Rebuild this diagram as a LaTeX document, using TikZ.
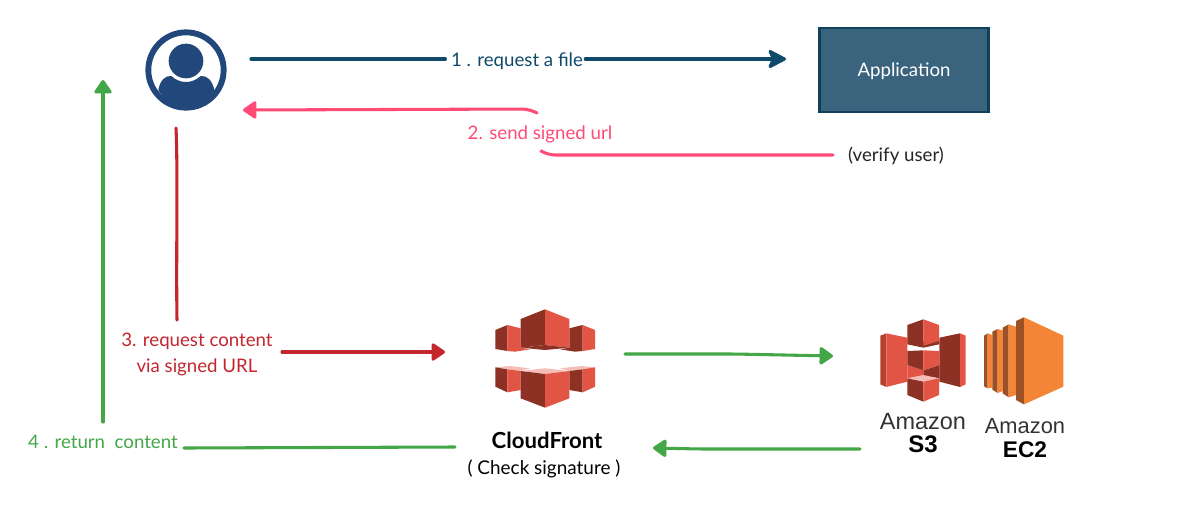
\documentclass[tikz,border=0pt]{standalone}
\usepackage{fontspec}
\setmainfont{Lato}
\newfontfamily\arialish{Liberation Sans}
\usetikzlibrary{arrows.meta}
\definecolor{navy}{HTML}{0F4A6B}
\definecolor{appfill}{HTML}{3A637D}
\definecolor{appedge}{HTML}{123F5C}
\definecolor{pinkc}{HTML}{FF4B75}
\definecolor{redc}{HTML}{C4262E}
\definecolor{greenc}{HTML}{43A748}
\definecolor{personc}{HTML}{22477A}
\definecolor{awslight}{HTML}{E25444}
\definecolor{awsdark}{HTML}{8C3123}
\definecolor{awsmid}{HTML}{B8402F}
\definecolor{awspale}{HTML}{F5BDB6}
\definecolor{ecl}{HTML}{F58536}
\definecolor{ecd}{HTML}{9D5025}
\tikzset{
  x=0.75pt,y=-0.75pt,
  conn/.style={line width=2.3pt,line cap=round,rounded corners=6pt},
  tri/.style={-{Triangle[length=11pt,width=14.5pt,round]}},
  lbl/.style={inner sep=0pt,font=\fontsize{14pt}{19.5pt}\selectfont,align=center},
  zoomed/.style={shift={#1},x=0.25pt,y=-0.25pt},
  lt/.style={fill=awslight},
  dk/.style={fill=awsdark},
  pl/.style={fill=awspale},
}
\begin{document}
\begin{tikzpicture}
\useasboundingbox (0,0) rectangle (1200,522);
\fill[white] (0,0) rectangle (1200,522);
% person
\begin{scope}[zoomed={(100,10)}]
  \draw[personc,line width=4.4pt] (258,180) circle (113);
  \fill[personc] (258,153) circle (52);
  \fill[personc] (175,240) .. controls (180,212) and (195,196) .. (214,198)
     .. controls (240,222) and (276,222) .. (302,198)
     .. controls (322,196) and (337,212) .. (343,240)
     .. controls (322,274) and (290,293) .. (258,293)
     .. controls (226,293) and (194,274) .. (175,240) -- cycle;
\end{scope}
\coordinate (person1) at (251,59);
\coordinate (person2) at (243,110);
\coordinate (person3) at (176,128);
% application
\node[draw=appedge,fill=appfill,line width=1.8pt,minimum width=126.5pt,minimum height=63pt,inner sep=0pt] (app) at (904,70) {};
\node[inner sep=0pt,text=white,font=\fontsize{14pt}{17pt}\selectfont] (applbl) at (904,71.5) {Application};
\coordinate (appin) at (786,59);
% labels
\node[lbl,text=navy] (l1) at (517,61) {1 . request a file};
\node[lbl,text=pinkc] (l2) at (540,134) {2. send signed url};
\node[lbl,text=black!85] (verify) at (896,156) {(verify user)};
\node[lbl,text=redc] (l3) at (197,354) {3. request content\\via signed URL};
\node[lbl,text=greenc] (l4) at (103,442) {4 . return~~content};
\node[lbl,font=\fontsize{16.6pt}{18pt}\bfseries\selectfont] (cf) at (547,440) {CloudFront};
\node[lbl,font=\fontsize{14.2pt}{16pt}\selectfont] (chk) at (544,469) {( Check signature )};
\node[inner sep=0pt,text=black!80,font=\arialish\fontsize{17.6pt}{20pt}\selectfont] (s3a) at (923,422) {Amazon};
\node[inner sep=0pt,font=\arialish\fontsize{18pt}{20pt}\bfseries\selectfont] (s3b) at (923,444) {S3};
\node[inner sep=0pt,text=black!80,font=\arialish\fontsize{16.4pt}{20pt}\selectfont] (eca) at (1025,426) {Amazon};
\node[inner sep=0pt,font=\arialish\fontsize{17pt}{20pt}\bfseries\selectfont] (ecb) at (1025,450) {EC2};
% connectors
\draw[conn,navy,shorten >=4pt] (person1) -- (l1.west |- person1);
\draw[conn,navy,shorten <=1.5pt,-{Stealth[length=15.5pt,width=16pt,inset=3.5pt,round]}] (l1.east |- appin) -- (appin);
\draw[conn,pinkc,tri] (537,113) -- (530,109) -- (person2);
\coordinate (pinkstart) at (541,151);
\draw[conn,pinkc] (pinkstart) -- (547,155) -- (833,155);
\draw[conn,redc] (person3) .. controls (178,170) and (176,260) .. (177,320);
\coordinate (r1) at (282,352);
\coordinate (cfin) at (445,352);
\draw[conn,redc,tri] (r1) -- (cfin);
\coordinate (g1) at (625,354);
\coordinate (g2) at (833,356);
\draw[conn,greenc,tri] (g1) -- (735,354) -- (g2);
\coordinate (g3) at (860,449);
\coordinate (g4) at (653,448);
\draw[conn,greenc,tri] (g3) -- (700,449) -- (g4);
\coordinate (g5) at (455,447);
\draw[conn,greenc] (g5) -- (184,448);
\coordinate (g6) at (103,422);
\coordinate (g7) at (103,80);
\draw[conn,greenc,tri] (g6) -- (g7);
% cloudfront icon
\begin{scope}[zoomed={(490,305)}]
  \fill[dk] (16,75) -- (52,60) -- (52,138) -- (16,132) -- cycle;
  \fill[lt] (52,60) -- (92,70) -- (92,128) -- (120,133) -- (75,140) -- (52,138) -- cycle;
  \fill[dk] (238,70) -- (278,60) -- (278,138) -- (255,140) -- (210,133) -- (238,128) -- cycle;
  \fill[lt] (278,60) -- (315,75) -- (315,132) -- (278,138) -- cycle;
  \fill[dk] (92,42) -- (165,13) -- (165,120) -- (92,128) -- cycle;
  \fill[lt] (165,13) -- (238,42) -- (238,128) -- (165,120) -- cycle;
  \fill[dk] (92,128) -- (165,120) -- (238,128) -- (165,135) -- cycle;
  \fill[pl] (16,187) -- (60,183) -- (120,190) -- (92,198) -- (52,193) -- cycle;
  \fill[dk] (16,187) -- (52,193) -- (52,262) -- (16,245) -- cycle;
  \fill[lt] (52,193) -- (92,198) -- (92,255) -- (52,262) -- cycle;
  \fill[pl] (210,190) -- (275,183) -- (315,187) -- (278,193) -- (238,198) -- cycle;
  \fill[dk] (238,198) -- (278,193) -- (278,262) -- (238,255) -- cycle;
  \fill[lt] (278,193) -- (315,187) -- (315,245) -- (278,262) -- cycle;
  \fill[pl] (92,198) -- (165,190) -- (238,198) -- (165,207) -- cycle;
  \fill[dk] (92,198) -- (165,207) -- (165,308) -- (92,280) -- cycle;
  \fill[lt] (165,207) -- (238,198) -- (238,280) -- (165,308) -- cycle;
\end{scope}
% s3 icon
\begin{scope}[zoomed={(875,315)}]
  \fill[awsmid] (16,62) -- (34,55) -- (34,216) -- (16,208) -- cycle;
  \fill[lt] (34,55) -- (97,68) -- (97,88) -- (97,200) -- (34,216) -- cycle;
  \fill[dk] (193,68) -- (255,55) -- (255,216) -- (193,200) -- cycle;
  \fill[lt] (255,55) -- (272,62) -- (272,208) -- (255,216) -- cycle;
  \fill[lt] (97,150) -- (145,166) -- (145,182) -- (97,190) -- cycle;
  \fill[dk] (145,166) -- (193,150) -- (193,190) -- (145,182) -- cycle;
  \fill[dk] (97,108) -- (145,106) -- (145,166) -- (97,150) -- cycle;
  \fill[lt] (145,106) -- (193,108) -- (193,150) -- (145,166) -- cycle;
  \fill[dk] (97,78) -- (192,78) -- (192,88) -- (145,98) -- (97,88) -- cycle;
  \fill[dk] (97,30) -- (145,13) -- (145,92) -- (97,78) -- cycle;
  \fill[lt] (145,13) -- (192,30) -- (192,78) -- (145,92) -- cycle;
  \fill[pl] (97,190) -- (145,180) -- (192,190) -- (145,200) -- cycle;
  \fill[dk] (97,190) -- (145,200) -- (145,260) -- (97,240) -- cycle;
  \fill[lt] (145,200) -- (192,190) -- (192,240) -- (145,260) -- cycle;
\end{scope}
% ec2 icon
\begin{scope}[zoomed={(860,305)}]
  \fill[ecd] (372,92) -- (383,85) -- (383,250) -- (372,244) -- cycle;
  \fill[ecl] (383,85) -- (397,90) -- (397,248) -- (383,250) -- cycle;
  \fill[ecd] (397,80) -- (413,72) -- (413,264) -- (397,254) -- cycle;
  \fill[ecl] (413,72) -- (428,76) -- (428,258) -- (413,264) -- cycle;
  \fill[ecd] (428,68) -- (446,58) -- (446,277) -- (428,265) -- cycle;
  \fill[ecl] (446,58) -- (468,65) -- (468,270) -- (446,277) -- cycle;
  \fill[ecd] (468,48) -- (492,37) -- (492,298) -- (468,285) -- cycle;
  \fill[ecl] (492,37) -- (610,92) -- (610,245) -- (492,298) -- cycle;
\end{scope}
\end{tikzpicture}
\end{document}
